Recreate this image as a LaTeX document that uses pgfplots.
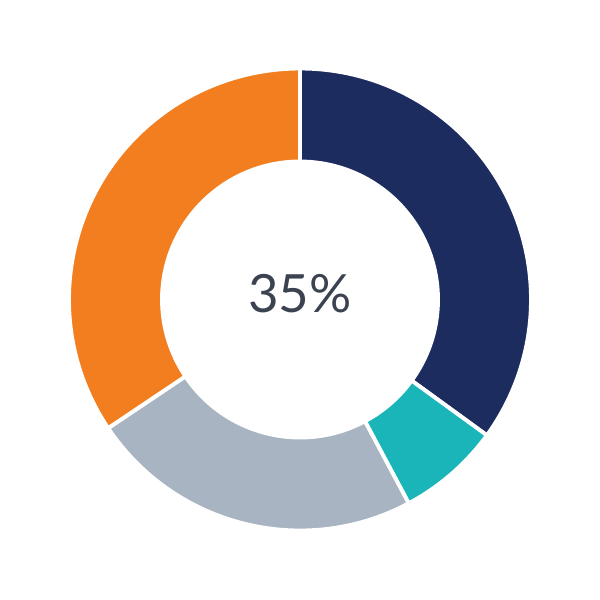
\documentclass[border=0pt]{standalone}
\usepackage{pgfplots}
\usepackage{pgfplotstable}
\pgfplotsset{compat=1.18}
\usepackage{fontspec}
\setmainfont{Lato}

\definecolor{navy}{HTML}{1C2C5E}
\definecolor{teal}{HTML}{1AB5B8}
\definecolor{slate}{HTML}{A9B4C2}
\definecolor{orange}{HTML}{F37E20}
\definecolor{txt}{HTML}{3B4350}

% share of each segment, clockwise from the top
\pgfplotstableread{
label value color
A 35 navy
B 7.2 teal
C 23.4 slate
D 34.4 orange
}\donut

\begin{document}
\begin{tikzpicture}
\begin{axis}[
    x=1cm, y=1cm,
    xmin=-3, xmax=3,
    ymin=-2.995, ymax=2.995,
    hide axis,
    clip=false,
]
% keep the full canvas, white margin included
\path (axis cs:-3,-2.995) rectangle (axis cs:3,2.995);
\def\start{90}
\pgfplotsforeachungrouped \i in {0,...,3}{
    \pgfplotstablegetelem{\i}{value}\of\donut \let\v\pgfplotsretval
    \pgfplotstablegetelem{\i}{color}\of\donut \let\c\pgfplotsretval
    \pgfmathsetmacro\stop{\start-3.6*\v}
    \edef\temp{\noexpand\fill[\c, draw=white, line width=1.1pt]
        (axis cs:{2.31*cos(\start)},{2.31*sin(\start)})
        arc[start angle=\start, end angle=\stop, radius=2.31cm]
        -- (axis cs:{1.38*cos(\stop)},{1.38*sin(\stop)})
        arc[start angle=\stop, end angle=\start, radius=1.38cm] -- cycle;}
    \temp
    \let\start\stop
}
\node[text=txt, font=\fontsize{15}{18}\selectfont] at (axis cs:0,0.06) {35\%};
\end{axis}
\end{tikzpicture}
\end{document}
